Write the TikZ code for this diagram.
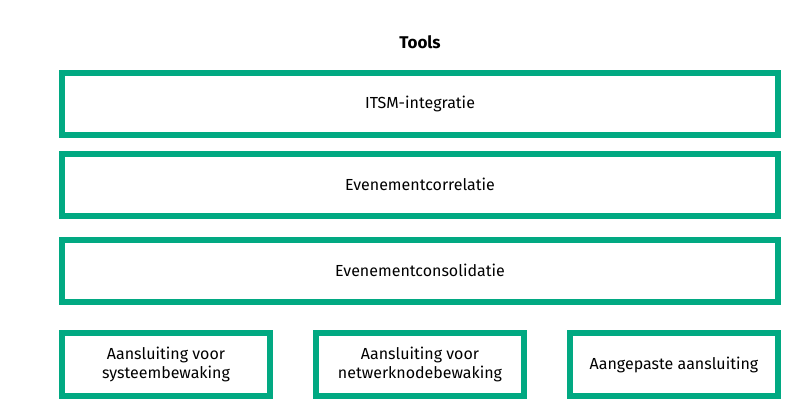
\documentclass[tikz,border=0pt]{standalone}
\usepackage{fontspec}
\setmainfont{Fira Sans}
\begin{document}
\begin{tikzpicture}[x=1pt,y=-1pt,
  box/.style={draw=hpe,line width=6pt,inner sep=0pt,align=center,font=\fontsize{16}{19}\selectfont},
]
\definecolor{hpe}{HTML}{01A982}
\useasboundingbox (0,0) rectangle (800,408);
\node[font=\bfseries\fontsize{17}{20}\selectfont] (t) at (420,42) {Tools};
\node[box,minimum width=716,minimum height=62] (a) at (420,103.5) {ITSM-integratie};
\node[box,minimum width=716,minimum height=62] (b) at (420,184.5) {Evenementcorrelatie};
\node[box,minimum width=716,minimum height=62] (c) at (420,270.5) {Evenementconsolidatie};
\node[box,minimum width=208,minimum height=63] (d) at (166,364.5) {Aansluiting voor\\systeembewaking};
\node[box,minimum width=208,minimum height=63] (e) at (420,364.5) {Aansluiting voor\\netwerknodebewaking};
\node[box,minimum width=208,minimum height=63] (f) at (674,364.5) {Aangepaste aansluiting};
\end{tikzpicture}
\end{document}
